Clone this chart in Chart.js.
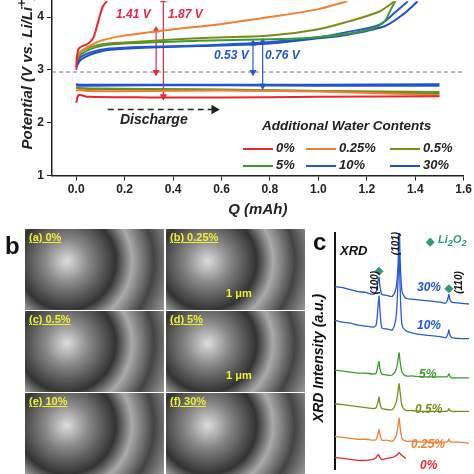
<!DOCTYPE html>
<html><head><meta charset="utf-8">
<script src="https://cdn.jsdelivr.net/npm/chart.js@4.4.1/dist/chart.umd.min.js"></script>
<style>
body{margin:0;width:474px;height:474px;overflow:hidden;background:#fff;font-family:"Liberation Sans",Arial,sans-serif;position:relative}
.t{position:absolute;font-weight:bold;font-style:italic;white-space:nowrap}
.sem{position:absolute;width:139px;height:81px;background:radial-gradient(circle at 30% 40%,#ddd 0,#888 20%,#333 45%,#aaa 60%,#444 80%,#999 100%);}
.sem span{position:absolute;left:4px;top:2px;color:#ee3;font-weight:bold;font-size:11px;text-decoration:underline}
.sb{position:absolute;color:#ee3;font-weight:bold;font-size:11px}
</style></head><body>
<canvas id="c1" width="474" height="228" style="position:absolute;left:0;top:-9px;width:474px;height:228px"></canvas>
<canvas id="c2" width="174" height="246" style="position:absolute;left:300px;top:228px;width:174px;height:246px"></canvas>
<div id="txt"></div>
<script>
// ---- Panel a data ----
const seriesNames=["0%","0.25%","0.5%","5%","10%","30%"];
const seriesColors=["#e8262b","#f07f2f","#7d8a1a","#3a9a2e","#2156d6","#1d4fc4"];
const chargeQ=[
 [0,0.01,0.05,0.07,0.09,0.11,0.13],
 [0,0.02,0.1,0.2,0.37,0.6,0.8,1.0,1.12],
 [0,0.02,0.1,0.2,0.5,0.8,1.0,1.15,1.25,1.3,1.32],
 [0,0.02,0.1,0.2,0.5,0.8,1.0,1.2,1.27,1.3,1.32],
 [0,0.02,0.1,0.2,0.5,0.8,1.0,1.1,1.25,1.32,1.37],
 [0,0.02,0.1,0.2,0.5,0.8,1.0,1.1,1.27,1.35,1.41]];
const chargeV=[
 [3.0,3.4,3.5,3.6,3.9,4.2,4.32],
 [3.2,3.35,3.55,3.65,3.75,3.87,4.0,4.15,4.3],
 [3.2,3.35,3.48,3.52,3.6,3.65,3.77,3.95,4.1,4.25,4.32],
 [3.15,3.3,3.45,3.5,3.55,3.58,3.62,3.75,3.9,4.15,4.32],
 [3.1,3.25,3.38,3.42,3.46,3.53,3.62,3.7,3.85,4.1,4.3],
 [3.05,3.2,3.35,3.4,3.45,3.5,3.6,3.65,3.82,4.05,4.3]];
const dischargeQ=[0,0.01,0.05,0.3,0.6,1.0,1.5];
const dischargeV=[
 [2.38,2.52,2.49,2.48,2.48,2.49,2.5],
 [2.6,2.62,2.6,2.6,2.61,2.59,2.52],
 [2.66,2.65,2.64,2.63,2.62,2.6,2.58],
 [2.68,2.66,2.65,2.64,2.63,2.6,2.55],
 [2.72,2.7,2.7,2.71,2.71,2.7,2.7],
 [2.74,2.72,2.72,2.72,2.72,2.72,2.73]];
const refLineV=2.96;
const xTicksA=[0,0.2,0.4,0.6,0.8,1.0,1.2,1.4,1.6];
const yTicksA=[1,2,3,4];
const arrowQ=[0.33,0.36,0.73,0.77];
const arrowV0=[2.96,2.5,2.96,2.7];
const arrowV1=[3.75,4.32,3.5,3.53];
const arrowCol=["#e8264b","#e8264b","#2156d6","#2156d6"];
const dischargeArrowQ=[0.13,0.57], dischargeArrowV=2.25;

const ds=[];
seriesNames.forEach((n,i)=>{
 ds.push({data:dischargeQ.map((q,k)=>({x:q,y:dischargeV[i][k]})),borderColor:seriesColors[i],borderWidth:2,pointRadius:0,tension:0.3});
 ds.push({data:chargeQ[i].map((q,k)=>({x:q,y:chargeV[i][k]})),borderColor:seriesColors[i],borderWidth:2,pointRadius:0,tension:0.3});
});
ds.push({data:[{x:-0.1,y:refLineV},{x:1.6,y:refLineV}],borderColor:"#777",borderWidth:1,borderDash:[4,3],pointRadius:0});
arrowQ.forEach((q,i)=>{
 ds.push({data:[{x:q,y:arrowV0[i]},{x:q,y:arrowV1[i]}],borderColor:arrowCol[i],backgroundColor:arrowCol[i],borderWidth:1.2,
  pointStyle:'triangle',pointRadius:[3,3],pointRotation:[180,0]});
});
ds.push({data:[{x:dischargeArrowQ[0],y:dischargeArrowV},{x:dischargeArrowQ[1],y:dischargeArrowV}],borderColor:"#222",backgroundColor:"#222",borderWidth:1.5,borderDash:[6,4],pointStyle:'triangle',pointRadius:[0,4],pointRotation:[0,90]});

new Chart(document.getElementById('c1'),{type:'line',data:{datasets:ds},options:{
 responsive:false,animation:false,devicePixelRatio:1,
 layout:{padding:{left:0,right:0,top:0,bottom:0}},
 plugins:{legend:{display:false},tooltip:{enabled:false}},
 scales:{
  x:{type:'linear',min:-0.1,max:1.6,
   afterBuildTicks:s=>{s.ticks=xTicksA.map(v=>({value:v}))},
   ticks:{color:'#222',font:{family:'Liberation Sans',weight:'bold',size:12},callback:v=>v.toFixed(1),padding:2},
   grid:{drawOnChartArea:false,tickLength:5,color:'#222'},border:{color:'#222',width:1.5},
   title:{display:true,text:'Q (mAh)',font:{family:'Liberation Sans',weight:'bold',style:'italic',size:15},color:'#222',padding:{top:2,bottom:0}}},
  y:{type:'linear',min:1,max:4.3,
   afterBuildTicks:s=>{s.ticks=yTicksA.map(v=>({value:v}))},
   ticks:{color:'#222',font:{family:'Liberation Sans',weight:'bold',size:12},padding:3},
   grid:{drawOnChartArea:false,tickLength:5,color:'#222'},border:{color:'#222',width:1.5},
   afterFit:s=>{s.width=52}}
 }}});

// ---- Panel c data ----
const xrdX=[0,8,16,24,32,40,43,45,46,47,49,54,60,64,66,67,68,70,74,80,90,100,110,116,118,119,120,122,130,140];
const xrdLabels=["30%","10%","5%","0.5%","0.25%","0%"];
const xrdColors=["#2156d6","#2a5ad8","#3a9a2e","#7d8a1a","#f07f2f","#e8262b"];
const xrdY=[
 [190,189,187,185,184,182,185,196,200,190,182,181,180,190,215,260,220,185,178,177,176,175,174,173,178,182,177,174,173,172],
 [155,153,152,150,149,148,150,170,180,165,147,146,145,160,200,225,190,150,144,142,140,139,138,137,141,145,140,137,136,136],
 [103,102,101,100,100,99,100,108,112,104,99,98,98,104,115,121,112,101,97,97,96,96,96,96,97,99,97,95,95,95],
 [68,67,66,65,64,63,64,70,75,68,63,62,62,70,82,89,80,66,61,61,60,60,60,60,61,63,61,60,60,60],
 [34,33,32,31,31,30,31,37,41,36,30,30,29,35,46,53,44,32,29,29,28,28,28,28,29,31,29,28,28,27],
 [12,11,10,9,9,10,12,15,14,12,10,11,12,14,16,17,16,14,11,null,null,null,null,null,null,null,null,null,null,null]];
const xrdPeakX=[46,67,119];
const xrdPeakY=[206,250,188];
const xrdDs=xrdY.map((ys,i)=>({data:xrdX.map((x,k)=>({x,y:ys[k]})),borderColor:xrdColors[i],borderWidth:1.3,pointRadius:0,tension:0.25,spanGaps:false}));
xrdDs.push({data:xrdPeakX.map((x,k)=>({x,y:xrdPeakY[k]})),showLine:false,pointStyle:'rectRot',pointRadius:4,backgroundColor:'#2e9a7a',borderColor:'#2e9a7a'});
new Chart(document.getElementById('c2'),{type:'line',data:{datasets:xrdDs},options:{
 responsive:false,animation:false,devicePixelRatio:1,
 layout:{padding:0},
 plugins:{legend:{display:false},tooltip:{enabled:false}},
 scales:{x:{type:'linear',min:0,max:140,display:false},
  y:{type:'linear',min:0,max:246,ticks:{display:false},grid:{display:false},border:{color:'#111',width:2},afterFit:s=>{s.width=35}}}
}});

// ---- texts ----
const T=[
 ["1.41 V",116,7,"#e8264b",12],["1.87 V",168,7,"#e8264b",12],["0.53 V",214,48,"#2156d6",12],["0.76 V",265,48,"#2156d6",12],
 ["Discharge",120,111,"#222",14],["Additional Water Contents",262,118,"#222",13.5],
 ["XRD",340,243,"#111",13],["30%",417,280,"#2156d6",12],["10%",417,318,"#2156d6",12],["5%",419,367,"#3a9a2e",12],
 ["0.5%",415,402,"#7d8a1a",12],["0.25%",411,437,"#f07f2f",12],["0%",420,458,"#e8262b",12]];
const tx=document.getElementById('txt');
T.forEach(([s,x,y,c,f])=>{const d=document.createElement('div');d.className='t';d.textContent=s;Object.assign(d.style,{left:x+'px',top:y+'px',color:c,fontSize:f+'px'});tx.appendChild(d);});
const lg=[[0,243,140],[1,306,140],[2,390,140],[3,243,157],[4,306,157],[5,390,157]];
lg.forEach(([i,x,y])=>{const d=document.createElement('div');d.className='t';Object.assign(d.style,{left:x+'px',top:y+'px',fontSize:'13px',color:'#222'});
 d.innerHTML='<span style="display:inline-block;width:30px;height:2px;background:'+seriesColors[i]+';vertical-align:middle;margin-right:3px"></span>'+seriesNames[i];tx.appendChild(d);});
</script>
<div class="t" style="left:-52px;top:62px;transform:rotate(-90deg);font-size:15px;color:#222">Potential (V vs. Li/Li<sup>+</sup>)</div>
<div class="t" style="left:254px;top:350px;transform:rotate(-90deg);font-size:14px;color:#111">XRD Intensity (a.u.)</div>
<div class="t" style="left:5px;top:232px;font-size:24px;font-style:normal;color:#111">b</div>
<div class="t" style="left:313px;top:228px;font-size:24px;font-style:normal;color:#111">c</div>
<div class="t" style="left:438px;top:233px;font-size:11px;color:#2e9a7a">Li<sub>2</sub>O<sub>2</sub></div>
<div class="t" style="left:426px;top:235px;font-size:11px;color:#2e9a7a;font-style:normal">◆</div>
<div class="t" style="left:363px;top:277px;font-size:10px;color:#111;transform:rotate(-90deg)">(100)</div>
<div class="t" style="left:384px;top:238px;font-size:10px;color:#111;transform:rotate(-90deg)">(101)</div>
<div class="t" style="left:447px;top:277px;font-size:10px;color:#111;transform:rotate(-90deg)">(110)</div>
<div class="sem" style="left:25px;top:229px"><span>(a) 0%</span></div>
<div class="sem" style="left:166px;top:229px"><span>(b) 0.25%</span><div class="sb" style="left:60px;top:58px">1 μm</div></div>
<div class="sem" style="left:25px;top:311px"><span>(c) 0.5%</span></div>
<div class="sem" style="left:166px;top:311px"><span>(d) 5%</span><div class="sb" style="left:60px;top:58px">1 μm</div></div>
<div class="sem" style="left:25px;top:393px"><span>(e) 10%</span></div>
<div class="sem" style="left:166px;top:393px"><span>(f) 30%</span></div>
</body></html>
